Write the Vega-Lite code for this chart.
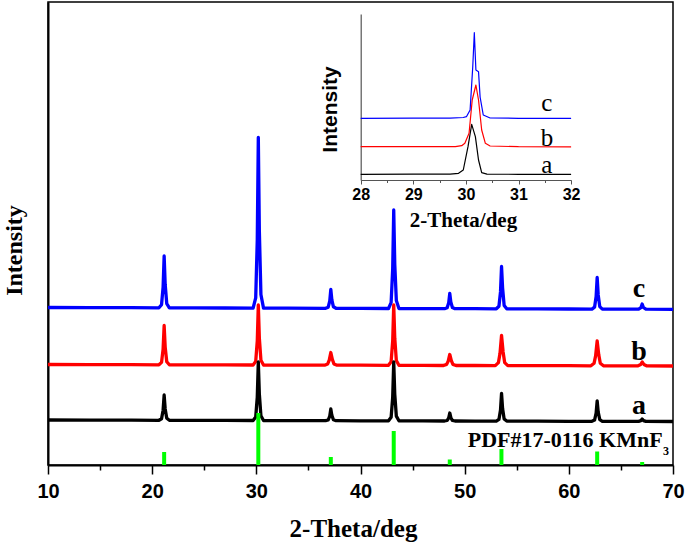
{
  "$schema": "https://vega.github.io/schema/vega-lite/v6.json",
  "width": 625,
  "height": 463,
  "autosize": {"type": "none"},
  "padding": {"left": 48, "top": 2, "right": 12, "bottom": 81},
  "background": "white",
  "config": {"view": {"stroke": "black", "strokeWidth": 1.5}},
  "datasets": {
    "main": [
      {"s":"c","x":10,"y":157.5},{"s":"c","x":14,"y":157.4},{"s":"c","x":18,"y":157.3},{"s":"c","x":24,"y":157.1},{"s":"c","x":27,"y":157.0},{"s":"c","x":33,"y":156.8},{"s":"c","x":40,"y":156.6},{"s":"c","x":46,"y":156.4},{"s":"c","x":51,"y":156.3},{"s":"c","x":57,"y":156.1},{"s":"c","x":60,"y":156.0},{"s":"c","x":65,"y":155.9},{"s":"c","x":70,"y":155.7},
      {"s":"c","x":20.65,"y":157.2},{"s":"c","x":20.9,"y":160.3},{"s":"c","x":21.05,"y":177.9},{"s":"c","x":21.15,"y":209},{"s":"c","x":21.25,"y":180.5},{"s":"c","x":21.4,"y":161.3},{"s":"c","x":21.65,"y":157.2},
      {"s":"c","x":29.69,"y":156.9},{"s":"c","x":29.94,"y":167.1},{"s":"c","x":30.09,"y":225.1},{"s":"c","x":30.19,"y":327.5},{"s":"c","x":30.29,"y":233.7},{"s":"c","x":30.44,"y":170.5},{"s":"c","x":30.69,"y":156.9},
      {"s":"c","x":36.65,"y":156.7},{"s":"c","x":36.9,"y":157.8},{"s":"c","x":37.05,"y":164.2},{"s":"c","x":37.15,"y":175.5},{"s":"c","x":37.25,"y":165.2},{"s":"c","x":37.4,"y":158.2},{"s":"c","x":37.65,"y":156.7},
      {"s":"c","x":42.69,"y":156.5},{"s":"c","x":42.94,"y":162.4},{"s":"c","x":43.09,"y":195.9},{"s":"c","x":43.19,"y":255},{"s":"c","x":43.29,"y":200.8},{"s":"c","x":43.44,"y":164.4},{"s":"c","x":43.69,"y":156.5},
      {"s":"c","x":48.07,"y":156.3},{"s":"c","x":48.32,"y":157.2},{"s":"c","x":48.47,"y":162.4},{"s":"c","x":48.57,"y":171.5},{"s":"c","x":48.67,"y":163.1},{"s":"c","x":48.82,"y":157.5},{"s":"c","x":49.07,"y":156.3},
      {"s":"c","x":53.04,"y":156.2},{"s":"c","x":53.29,"y":158.7},{"s":"c","x":53.44,"y":173.1},{"s":"c","x":53.54,"y":198.5},{"s":"c","x":53.64,"y":177.2},{"s":"c","x":53.79,"y":159.6},{"s":"c","x":54.04,"y":156.2},
      {"s":"c","x":62.22,"y":155.9},{"s":"c","x":62.47,"y":157.8},{"s":"c","x":62.62,"y":168.5},{"s":"c","x":62.72,"y":187.5},{"s":"c","x":62.82,"y":170.1},{"s":"c","x":62.97,"y":158.4},{"s":"c","x":63.22,"y":155.9},
      {"s":"c","x":66.7,"y":155.8},{"s":"c","x":66.92,"y":157.3},{"s":"c","x":67.04,"y":161},{"s":"c","x":67.16,"y":157.5},{"s":"c","x":67.4,"y":155.8},

      {"s":"b","x":10,"y":100.5},{"s":"b","x":14,"y":100.4},{"s":"b","x":18,"y":100.3},{"s":"b","x":24,"y":100.1},{"s":"b","x":27,"y":100.1},{"s":"b","x":33,"y":99.9},{"s":"b","x":40,"y":99.8},{"s":"b","x":46,"y":99.6},{"s":"b","x":51,"y":99.5},{"s":"b","x":57,"y":99.3},{"s":"b","x":60,"y":99.3},{"s":"b","x":65,"y":99.1},{"s":"b","x":70,"y":99.0},
      {"s":"b","x":20.65,"y":100.2},{"s":"b","x":20.9,"y":102.6},{"s":"b","x":21.05,"y":115.9},{"s":"b","x":21.15,"y":139.5},{"s":"b","x":21.25,"y":117.9},{"s":"b","x":21.4,"y":103.3},{"s":"b","x":21.65,"y":100.2},
      {"s":"b","x":29.69,"y":100},{"s":"b","x":29.94,"y":103.6},{"s":"b","x":30.09,"y":124},{"s":"b","x":30.19,"y":160},{"s":"b","x":30.29,"y":127},{"s":"b","x":30.44,"y":104.8},{"s":"b","x":30.69,"y":100},
      {"s":"b","x":36.55,"y":99.8},{"s":"b","x":36.85,"y":101.1},{"s":"b","x":37.0,"y":104.9},{"s":"b","x":37.15,"y":112.5},{"s":"b","x":37.3,"y":105.5},{"s":"b","x":37.45,"y":101.1},{"s":"b","x":37.75,"y":99.8},
      {"s":"b","x":42.69,"y":99.7},{"s":"b","x":42.94,"y":103.3},{"s":"b","x":43.09,"y":123.8},{"s":"b","x":43.19,"y":160},{"s":"b","x":43.29,"y":126.8},{"s":"b","x":43.44,"y":104.5},{"s":"b","x":43.69,"y":99.7},
      {"s":"b","x":47.97,"y":99.5},{"s":"b","x":48.27,"y":100.6},{"s":"b","x":48.42,"y":103.9},{"s":"b","x":48.57,"y":110.5},{"s":"b","x":48.72,"y":104.4},{"s":"b","x":48.87,"y":100.6},{"s":"b","x":49.17,"y":99.5},
      {"s":"b","x":52.94,"y":99.4},{"s":"b","x":53.24,"y":102.4},{"s":"b","x":53.39,"y":111.4},{"s":"b","x":53.54,"y":129.5},{"s":"b","x":53.69,"y":113},{"s":"b","x":53.84,"y":102.4},{"s":"b","x":54.14,"y":99.4},
      {"s":"b","x":62.12,"y":99.2},{"s":"b","x":62.42,"y":101.7},{"s":"b","x":62.57,"y":109.1},{"s":"b","x":62.72,"y":124},{"s":"b","x":62.87,"y":110.4},{"s":"b","x":63.02,"y":101.7},{"s":"b","x":63.32,"y":99.2},
      {"s":"b","x":66.6,"y":99.1},{"s":"b","x":66.9,"y":100.5},{"s":"b","x":67.04,"y":103},{"s":"b","x":67.2,"y":100.6},{"s":"b","x":67.5,"y":99.1},

      {"s":"a","x":10,"y":45},{"s":"a","x":14,"y":44.9},{"s":"a","x":18,"y":44.8},{"s":"a","x":24,"y":44.7},{"s":"a","x":27,"y":44.6},{"s":"a","x":33,"y":44.4},{"s":"a","x":40,"y":44.2},{"s":"a","x":46,"y":44.1},{"s":"a","x":51,"y":43.9},{"s":"a","x":57,"y":43.8},{"s":"a","x":60,"y":43.7},{"s":"a","x":65,"y":43.6},{"s":"a","x":70,"y":43.5},
      {"s":"a","x":20.65,"y":44.7},{"s":"a","x":20.9,"y":46.2},{"s":"a","x":21.05,"y":54.8},{"s":"a","x":21.15,"y":70},{"s":"a","x":21.25,"y":56.1},{"s":"a","x":21.4,"y":46.7},{"s":"a","x":21.65,"y":44.7},
      {"s":"a","x":29.69,"y":44.5},{"s":"a","x":29.94,"y":48},{"s":"a","x":30.09,"y":67.9},{"s":"a","x":30.19,"y":103},{"s":"a","x":30.29,"y":70.8},{"s":"a","x":30.44,"y":49.2},{"s":"a","x":30.69,"y":44.5},
      {"s":"a","x":36.65,"y":44.3},{"s":"a","x":36.9,"y":45},{"s":"a","x":37.05,"y":49},{"s":"a","x":37.15,"y":56},{"s":"a","x":37.25,"y":49.6},{"s":"a","x":37.4,"y":45.2},{"s":"a","x":37.65,"y":44.3},
      {"s":"a","x":42.69,"y":44.2},{"s":"a","x":42.94,"y":47.7},{"s":"a","x":43.09,"y":67.7},{"s":"a","x":43.19,"y":103},{"s":"a","x":43.29,"y":70.7},{"s":"a","x":43.44,"y":48.9},{"s":"a","x":43.69,"y":44.2},
      {"s":"a","x":48.07,"y":44},{"s":"a","x":48.32,"y":44.5},{"s":"a","x":48.47,"y":47.2},{"s":"a","x":48.57,"y":52},{"s":"a","x":48.67,"y":47.6},{"s":"a","x":48.82,"y":44.6},{"s":"a","x":49.07,"y":44},
      {"s":"a","x":53.04,"y":43.9},{"s":"a","x":53.29,"y":45.6},{"s":"a","x":53.44,"y":55},{"s":"a","x":53.54,"y":71.7},{"s":"a","x":53.64,"y":56.4},{"s":"a","x":53.79,"y":46.1},{"s":"a","x":54.04,"y":43.9},
      {"s":"a","x":62.22,"y":43.7},{"s":"a","x":62.47,"y":44.9},{"s":"a","x":62.62,"y":51.8},{"s":"a","x":62.72,"y":64},{"s":"a","x":62.82,"y":52.8},{"s":"a","x":62.97,"y":45.3},{"s":"a","x":63.22,"y":43.7},
      {"s":"a","x":66.7,"y":43.6},{"s":"a","x":66.92,"y":44.3},{"s":"a","x":67.04,"y":46},{"s":"a","x":67.16,"y":44.4},{"s":"a","x":67.4,"y":43.6}
    ],
    "ref": [
      {"x":21.15,"y":13},{"x":30.19,"y":52},{"x":37.15,"y":8},{"x":43.19,"y":34},{"x":48.57,"y":5.5},{"x":53.53,"y":16},{"x":62.72,"y":13.5},{"x":67.04,"y":3}
    ],
    "labels": [
      {"x":66.73,"y":168.3,"t":"c"},{"x":66.73,"y":105,"t":"b"},{"x":66.73,"y":51,"t":"a"}
    ],
    "pdf": [{"x":50.29,"y":18.3,"t":"PDF#17-0116 KMnF"}],
    "sub": [{"x":69.33,"y":10,"t":"3"}],
    "inset": [
      {"s":"a","x":28,"y":5.7},{"s":"a","x":29,"y":5.8},{"s":"a","x":29.7,"y":5.8},{"s":"a","x":29.86,"y":6.7},{"s":"a","x":29.95,"y":10},{"s":"a","x":30.04,"y":33.3},{"s":"a","x":30.11,"y":55.7},{"s":"a","x":30.18,"y":43.3},{"s":"a","x":30.24,"y":20},{"s":"a","x":30.3,"y":7.3},{"s":"a","x":30.4,"y":5.8},{"s":"a","x":31,"y":5.7},{"s":"a","x":32,"y":5.6},
      {"s":"b","x":28,"y":33.3},{"s":"b","x":29,"y":33.4},{"s":"b","x":29.8,"y":33.4},{"s":"b","x":29.92,"y":34.3},{"s":"b","x":29.98,"y":36.7},{"s":"b","x":30.06,"y":46.7},{"s":"b","x":30.12,"y":80},{"s":"b","x":30.19,"y":95},{"s":"b","x":30.24,"y":80},{"s":"b","x":30.3,"y":50},{"s":"b","x":30.37,"y":36.7},{"s":"b","x":30.46,"y":34},{"s":"b","x":31,"y":33.3},{"s":"b","x":32,"y":33.2},
      {"s":"c","x":28,"y":61.7},{"s":"c","x":29,"y":61.8},{"s":"c","x":29.7,"y":61.8},{"s":"c","x":29.95,"y":62.5},{"s":"c","x":30.01,"y":63.3},{"s":"c","x":30.08,"y":70},{"s":"c","x":30.13,"y":113},{"s":"c","x":30.16,"y":147.3},{"s":"c","x":30.19,"y":110},{"s":"c","x":30.24,"y":108.3},{"s":"c","x":30.27,"y":83},{"s":"c","x":30.33,"y":65},{"s":"c","x":30.46,"y":62},{"s":"c","x":31,"y":61.7},{"s":"c","x":32,"y":61.7}
    ],
    "ilabels": [
      {"x":31.54,"y":69,"t":"c"},{"x":31.54,"y":34,"t":"b"},{"x":31.54,"y":7,"t":"a"}
    ]
  },
  "layer": [
    {
      "encoding": {
        "x": {
          "field": "x", "type": "quantitative",
          "scale": {"domain": [10, 70], "nice": false, "zero": false},
          "axis": {
            "values": [10,15,20,25,30,35,40,45,50,55,60,65,70],
            "labelExpr": "datum.value % 10 === 0 ? datum.label : ''",
            "tickSize": {"condition": {"test": "datum.value % 10 === 0", "value": 9}, "value": 5},
            "tickColor": "black", "tickWidth": 1.5,
            "domainColor": "black", "domainWidth": 2,
            "labelFont": "Liberation Sans", "labelFontSize": 20, "labelFontWeight": "bold", "labelColor": "black",
            "labelPadding": 7, "labelFlush": false, "labelOverlap": false,
            "grid": false,
            "title": "2-Theta/deg", "titleFont": "Liberation Serif", "titleFontSize": 25, "titleFontWeight": "bold", "titleColor": "black",
            "titleX": 305, "titleY": 71, "titleBaseline": "alphabetic", "titleAlign": "center"
          }
        },
        "y": {
          "field": "y", "type": "quantitative",
          "scale": {"domain": [0, 463], "nice": false, "zero": false},
          "axis": {
            "ticks": false, "labels": false, "grid": false,
            "domainColor": "black", "domainWidth": 2,
            "title": "Intensity", "titleFont": "Liberation Serif", "titleFontSize": 24, "titleFontWeight": "bold", "titleColor": "black",
            "titleX": -34, "titleY": 248, "titleAngle": -90, "titleBaseline": "middle", "titleAlign": "center"
          }
        }
      },
      "layer": [
        {
          "data": {"name": "main"},
          "transform": [{"filter": "datum.s === 'c'"}],
          "mark": {"type": "line", "strokeWidth": 3.3, "strokeJoin": "round"},
          "encoding": {"color": {"field": "s", "type": "nominal", "scale": {"domain": ["a","b","c"], "range": ["#000000","#ff0000","#0000ff"]}, "legend": null}}
        },
        {
          "data": {"name": "main"},
          "transform": [{"filter": "datum.s === 'b'"}],
          "mark": {"type": "line", "strokeWidth": 3.3, "strokeJoin": "round"},
          "encoding": {"color": {"field": "s", "type": "nominal", "scale": {"domain": ["a","b","c"], "range": ["#000000","#ff0000","#0000ff"]}, "legend": null}}
        },
        {
          "data": {"name": "main"},
          "transform": [{"filter": "datum.s === 'a'"}],
          "mark": {"type": "line", "strokeWidth": 3.3, "strokeJoin": "round"},
          "encoding": {"color": {"field": "s", "type": "nominal", "scale": {"domain": ["a","b","c"], "range": ["#000000","#ff0000","#0000ff"]}, "legend": null}}
        },
        {
          "data": {"name": "ref"},
          "mark": {"type": "rule", "color": "#00ff00", "strokeWidth": 4},
          "encoding": {"y2": {"datum": 0}}
        },
        {
          "data": {"name": "labels"},
          "mark": {"type": "text", "font": "Liberation Serif", "fontSize": 28, "fontWeight": "bold", "color": "black", "align": "center", "baseline": "alphabetic"},
          "encoding": {"text": {"field": "t"}}
        },
        {
          "data": {"name": "pdf"},
          "mark": {"type": "text", "font": "Liberation Serif", "fontSize": 22, "fontWeight": "bold", "color": "black", "align": "left", "baseline": "alphabetic"},
          "encoding": {"text": {"field": "t"}}
        },
        {
          "data": {"name": "sub"},
          "mark": {"type": "text", "font": "Liberation Serif", "fontSize": 12, "fontWeight": "bold", "color": "black", "align": "center", "baseline": "alphabetic"},
          "encoding": {"text": {"field": "t"}}
        }
      ]
    },
    {
      "encoding": {
        "x": {
          "field": "x", "type": "quantitative",
          "scale": {"domain": [28, 32], "range": [312.7, 523.1], "nice": false, "zero": false},
          "axis": {
            "orient": "bottom", "offset": -285,
            "values": [28,28.5,29,29.5,30,30.5,31,31.5,32],
            "format": ".0f",
            "labelExpr": "datum.value % 1 === 0 ? datum.label : ''",
            "tickSize": {"condition": {"test": "datum.value % 1 === 0", "value": 4}, "value": 2.5},
            "tickColor": "#555555", "tickWidth": 1,
            "domainColor": "#555555", "domainWidth": 1.2,
            "labelFont": "Liberation Sans", "labelFontSize": 16, "labelFontWeight": "bold", "labelColor": "black",
            "labelPadding": 2, "labelFlush": false, "labelOverlap": false,
            "grid": false,
            "title": "2-Theta/deg", "titleFont": "Liberation Serif", "titleFontSize": 21, "titleFontWeight": "bold", "titleColor": "black",
            "titleX": 415, "titleY": 40, "titleBaseline": "middle", "titleAlign": "center"
          }
        },
        "y": {
          "field": "y", "type": "quantitative",
          "scale": {"domain": [0, 166], "range": [178, 12], "nice": false, "zero": false},
          "axis": {
            "orient": "left", "offset": -312.7,
            "ticks": false, "labels": false, "grid": false,
            "domainColor": "#555555", "domainWidth": 1.2,
            "title": "Intensity", "titleFont": "Liberation Sans", "titleFontSize": 21, "titleFontWeight": "bold", "titleColor": "black",
            "titleX": -30, "titleY": 107, "titleAngle": -90, "titleBaseline": "middle", "titleAlign": "center"
          }
        }
      },
      "layer": [
        {
          "data": {"name": "inset"},
          "mark": {"type": "line", "strokeWidth": 1.2, "strokeJoin": "round"},
          "encoding": {"color": {"field": "s", "type": "nominal", "scale": {"domain": ["a","b","c"], "range": ["#000000","#ff0000","#0000ff"]}, "legend": null}}
        },
        {
          "data": {"name": "ilabels"},
          "mark": {"type": "text", "font": "Liberation Serif", "fontSize": 25, "color": "black", "align": "center", "baseline": "alphabetic"},
          "encoding": {"text": {"field": "t"}}
        }
      ]
    }
  ],
  "resolve": {"scale": {"x": "independent", "y": "independent"}, "axis": {"x": "independent", "y": "independent"}}
}
